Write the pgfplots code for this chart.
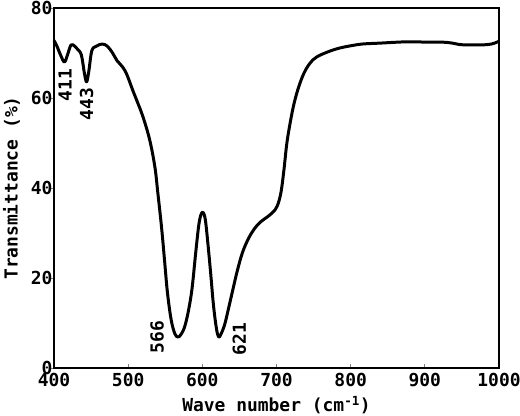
\documentclass[border=0pt]{standalone}
\usepackage{fontspec}
\setmainfont{DejaVu Sans Mono}
\usepackage{pgfplots}
\pgfplotsset{compat=1.18}
\begin{document}
\begin{tikzpicture}
\begin{axis}[
  at={(0,0)}, anchor=south west,
  scale only axis,
  width=445bp, height=360bp,
  xmin=400, xmax=1000, ymin=0, ymax=80,
  xtick={400,500,...,1000}, ytick={0,20,...,80},
  xtick pos=lower, ytick pos=left,
  major tick length=4pt,
  ytick style={xshift=-4pt, line width=1pt},
  xtick style={line width=1pt},
  axis line style={line width=1.6pt},
  /pgf/number format/assume math mode=true,
  /pgf/number format/1000 sep={},
  font=\fontsize{18}{20}\selectfont\bfseries,
  xticklabel style={yshift=-2pt},
  yticklabel style={xshift=2pt},
  xlabel={Wave number (cm\textsuperscript{-1})},
  ylabel={Transmittance (\%)},
  xlabel style={yshift=-2pt},
  ylabel style={yshift=4pt},
  clip=false,
]
\addplot[black, line width=3pt, smooth, tension=0.6, line join=round] coordinates {
(400,72.8)(404,71.5)(409,69.5)(414,68.0)(418,69.5)(423,71.8)(428,71.5)(432,70.8)
(437,69.5)(441,65.5)(444,63.6)(447,66)(451,70.5)(457,71.5)(465,72.0)(472,71.5)
(479,70.0)(485,68.3)(492,67.0)(498,65.3)(506,61.8)(512,59.3)(520,55.8)(529,50.7)
(536,44.7)(540,38.9)(545,31.3)(549,24)(553,16.7)(558,10.7)(563,7.6)(567,6.9)
(571,7.4)(576,9.1)(581,12.5)(586,17.5)(591,25.5)(595,31.5)(598,34.0)(601,34.6)(604,33.0)
(607,28.5)(611,21.5)(615,14)(619,8.8)(622,6.9)(625,7.5)(630,9.6)(635,13)
(641,17.3)(647,21.5)(654,25.6)(662,28.7)(670,30.9)(678,32.4)(687,33.5)(695,34.6)
(701,36.0)(706,39.0)(710,44)(714,50)(719,55)(724,59)(730,62.5)(737,65.5)(745,67.7)
(754,69.1)(770,70.3)(785,71.1)(800,71.6)(816,72.0)(840,72.2)
(862,72.4)(880,72.5)(906,72.4)(925,72.4)(937,72.2)(946,71.9)(956,71.8)(968,71.8)
(978,71.8)(990,72.0)(997,72.4)(1000,72.6)
};
\node[rotate=90, font=\fontsize{18}{20}\selectfont\bfseries] at (axis cs:415,62.9) {411};
\node[rotate=90, font=\fontsize{18}{20}\selectfont\bfseries] at (axis cs:444,58.7) {443};
\node[rotate=90, font=\fontsize{18}{20}\selectfont\bfseries] at (axis cs:539,6.9) {566};
\node[rotate=90, font=\fontsize{18}{20}\selectfont\bfseries] at (axis cs:650,6.4) {621};
\end{axis}
\pgfresetboundingbox
\useasboundingbox (-54bp,-48bp) rectangle (466bp,368bp);
\end{tikzpicture}
\end{document}
